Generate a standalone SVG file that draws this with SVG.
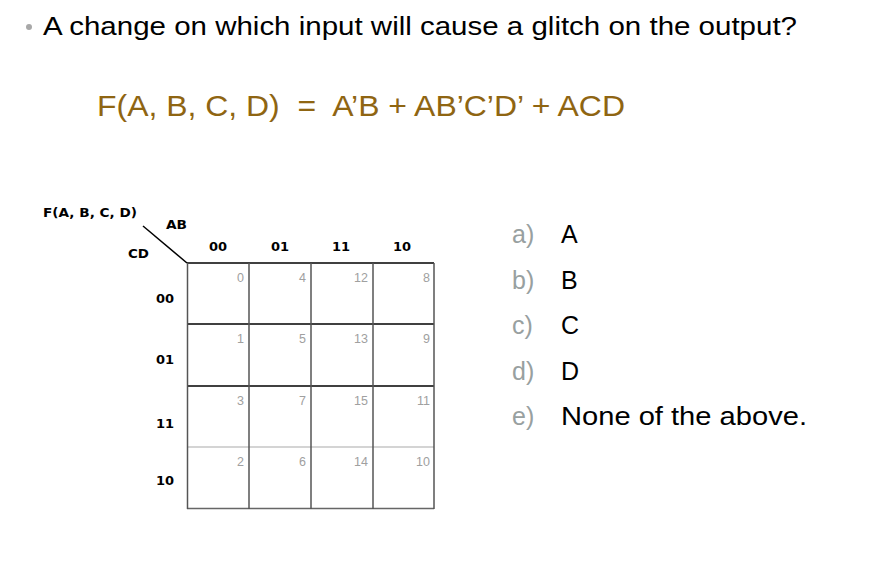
<svg xmlns="http://www.w3.org/2000/svg" width="893" height="578" viewBox="0 0 893 578">
<style>
.title{font-family:"Liberation Sans",Arial,sans-serif;font-size:26px;fill:#000}
.formula{font-family:"Liberation Sans",Arial,sans-serif;font-size:30px;fill:#8f6512;white-space:pre}
.km{font-family:"DejaVu Sans",sans-serif;font-weight:bold;font-size:13px;fill:#000}
.num{font-family:"Liberation Sans",Arial,sans-serif;font-size:12.5px;fill:#a0a0a0;text-anchor:end}
.opt{font-family:"Liberation Sans",Arial,sans-serif;font-size:25px;fill:#98a0a0}
.ans{font-family:"Liberation Sans",Arial,sans-serif;font-size:25px;fill:#000}
.g{stroke:#555;stroke-width:1.5;fill:none}
</style>
<rect width="893" height="578" fill="#fff"/>
<g id="question">
<circle cx="29" cy="27" r="3" fill="#a8a8a8"/>
<text class="title" x="43" y="35" textLength="754" lengthAdjust="spacingAndGlyphs">A change on which input will cause a glitch on the output?</text>
</g>
<g id="formula">
<text class="formula" x="97" y="116" textLength="528" lengthAdjust="spacingAndGlyphs" xml:space="preserve">F(A, B, C, D)  =  A’B + AB’C’D’ + ACD</text>
</g>
<g id="kmap">
<text class="km" x="43" y="217" textLength="94" lengthAdjust="spacingAndGlyphs">F(A, B, C, D)</text>
<text class="km" x="166" y="229" textLength="21" lengthAdjust="spacingAndGlyphs">AB</text>
<text class="km" x="128" y="258" textLength="21" lengthAdjust="spacingAndGlyphs">CD</text>
<line x1="143" y1="226" x2="187" y2="263" stroke="#000" stroke-width="1.5"/>
<text class="km" x="218" y="251" text-anchor="middle">00</text>
<text class="km" x="280" y="251" text-anchor="middle">01</text>
<text class="km" x="341" y="251" text-anchor="middle">11</text>
<text class="km" x="402" y="251" text-anchor="middle">10</text>
<text class="km" x="165" y="303" text-anchor="middle">00</text>
<text class="km" x="165" y="364" text-anchor="middle">01</text>
<text class="km" x="165" y="428" text-anchor="middle">11</text>
<text class="km" x="165" y="485" text-anchor="middle">10</text>
<line x1="187" y1="263" x2="434" y2="263" stroke="#000" stroke-width="1.5"/>
<line x1="187" y1="324" x2="434" y2="324" stroke="#000" stroke-width="1.5"/>
<line x1="187" y1="386" x2="434" y2="386" stroke="#000" stroke-width="1.5"/>
<line x1="187" y1="447" x2="434" y2="447" stroke="#aaa" stroke-width="1.2"/>
<line x1="187" y1="508.5" x2="434" y2="508.5" stroke="#666" stroke-width="1.5"/>
<line class="g" x1="187.5" y1="263" x2="187.5" y2="509"/>
<line class="g" x1="249" y1="263" x2="249" y2="509"/>
<line class="g" x1="311" y1="263" x2="311" y2="509"/>
<line class="g" x1="373" y1="263" x2="373" y2="509"/>
<line class="g" x1="434" y1="263" x2="434" y2="509"/>
<text class="num" x="244" y="282">0</text>
<text class="num" x="306" y="282">4</text>
<text class="num" x="368" y="282">12</text>
<text class="num" x="430" y="282">8</text>
<text class="num" x="244" y="343">1</text>
<text class="num" x="306" y="343">5</text>
<text class="num" x="368" y="343">13</text>
<text class="num" x="430" y="343">9</text>
<text class="num" x="244" y="405">3</text>
<text class="num" x="306" y="405">7</text>
<text class="num" x="368" y="405">15</text>
<text class="num" x="430" y="405">11</text>
<text class="num" x="244" y="466">2</text>
<text class="num" x="306" y="466">6</text>
<text class="num" x="368" y="466">14</text>
<text class="num" x="430" y="466">10</text>
</g>
<g id="answers">
<text class="opt" x="512" y="243">a)</text><text class="ans" x="561" y="243">A</text>
<text class="opt" x="512" y="289">b)</text><text class="ans" x="561" y="289">B</text>
<text class="opt" x="512" y="334">c)</text><text class="ans" x="561" y="334">C</text>
<text class="opt" x="512" y="380">d)</text><text class="ans" x="561" y="380">D</text>
<text class="opt" x="512" y="425">e)</text><text class="ans" x="561" y="425" textLength="246" lengthAdjust="spacingAndGlyphs">None of the above.</text>
</g>
</svg>
